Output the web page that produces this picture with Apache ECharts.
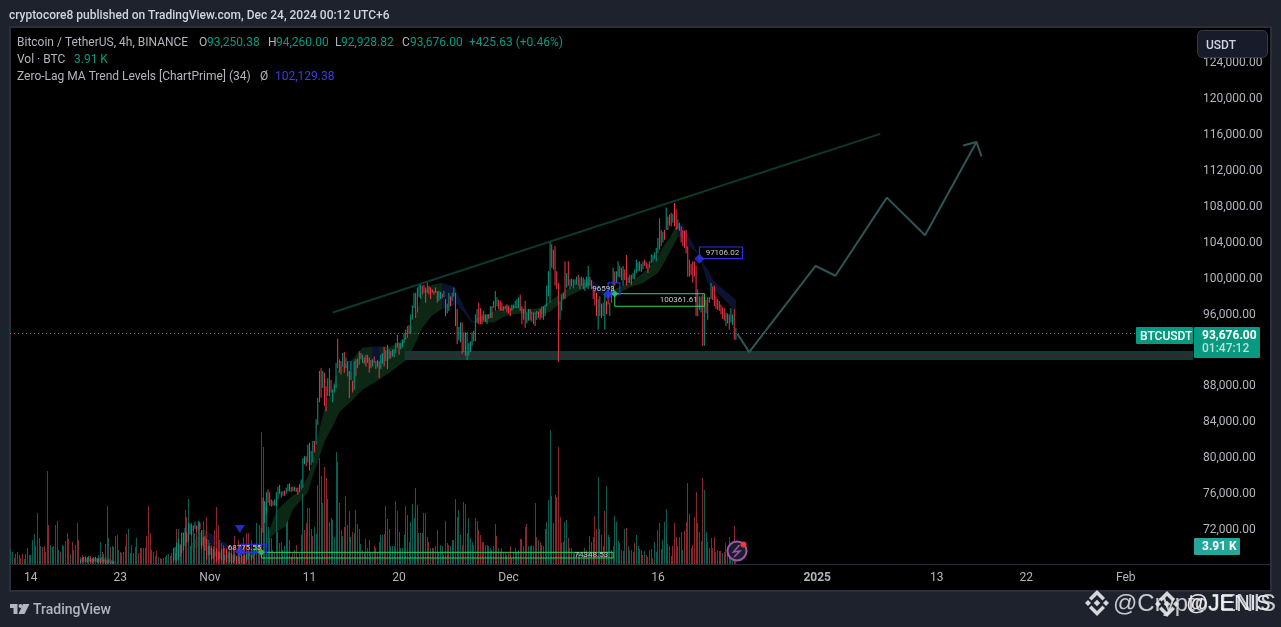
<!DOCTYPE html>
<html>
<head>
<meta charset="utf-8">
<style>html,body{margin:0;padding:0;background:#1e222d}#chart{width:1281px;height:627px}</style>
<script src="https://cdn.jsdelivr.net/npm/echarts@6/dist/echarts.min.js"></script>
</head>
<body>
<div id="chart"></div>
<script>
// BTC/USDT 4h chart: candles, volume, zero-lag band, levels and drawn projection.
const UI_FONT = 'Roboto, "Noto Sans", sans-serif';
const BAR_COUNT = 713;

// Time axis
const tickIndex = [12, 66, 120, 180, 234, 300, 390, 486, 558, 612, 672];
const tickText = ['14', '23', 'Nov', '11', '20', 'Dec', '16', '2025', '13', '22', 'Feb'];

// Candles, in thousands of USDT, starting at bar 42
const candleFirst = 42;
const candleLow = [
  68.1,68.2,68.3,68.2,68.2,68.3,68.2,68.1,68.2,68.3,
  68.2,68.1,68.0,68.2,68.1,68.0,68.0,68.1,68.0,68.0,
  68.0,
  ...Array(35).fill(null),
  68.2,68.4,68.3,68.5,68.8,69.2,69.5,70.0,70.4,70.5,
  71.3,71.2,71.7,71.9,71.6,71.8,71.9,69.7,70.0,69.5,
  68.6,69.0,69.0,68.5,68.6,68.8,68.3,68.4,68.6,68.4,
  68.0,68.4,68.2,68.6,68.2,68.0,68.1,68.3,68.0,68.2,
  68.0,68.1,68.0,68.0,68.2,68.5,68.7,68.4,68.6,69.0,
  69.2,69.2,69.3,70.0,71.5,72.6,73.5,74.8,74.5,74.4,
  74.5,74.5,74.5,75.2,75.8,75.4,75.6,75.6,75.8,76.1,
  76.1,76.0,76.1,76.1,76.0,75.7,76.0,76.3,76.5,79.1,
  78.9,79.3,78.4,79.0,79.3,80.4,81.3,83.5,86.0,86.5,
  87.6,85.6,85.0,86.7,86.7,87.1,86.0,87.1,87.6,89.8,
  89.3,89.1,90.0,89.3,89.8,88.9,86.5,88.5,87.1,87.4,
  88.9,89.8,90.2,90.8,90.4,90.3,90.0,90.4,89.3,89.8,
  90.0,90.4,89.7,89.9,88.7,89.7,90.3,90.0,90.6,89.7,
  90.8,90.9,91.1,91.0,91.5,92.1,91.3,91.9,92.1,92.6,
  93.0,93.2,93.6,93.7,95.2,96.5,95.4,96.0,97.7,97.5,
  98.0,98.2,97.1,98.2,98.0,97.5,98.2,98.0,98.2,97.1,
  97.3,97.5,97.6,97.7,95.6,95.9,96.2,96.7,97.3,97.8,
  94.5,92.5,92.9,92.7,91.4,91.6,91.2,90.7,91.2,91.6,
  92.3,92.8,92.8,94.8,94.7,94.7,94.7,95.1,94.9,94.7,
  95.3,95.4,95.4,96.5,96.2,96.7,96.4,96.2,96.2,96.2,
  96.4,96.0,95.9,95.6,96.2,96.4,96.5,96.5,96.5,96.2,
  94.7,95.2,94.3,94.8,95.1,95.1,95.0,94.7,94.5,95.2,
  95.4,95.2,95.4,95.2,95.6,96.7,97.8,97.1,101.0,100.8,
  99.0,98.6,90.5,95.2,96.2,97.5,97.5,98.8,99.0,98.6,
  98.9,98.7,99.0,99.1,99.0,98.6,99.0,98.6,98.4,98.8,
  98.6,99.0,98.6,97.5,96.8,95.6,94.1,95.6,95.4,95.6,
  94.1,95.8,96.9,95.6,97.1,98.2,99.0,99.3,100.0,99.9,
  99.6,99.0,99.6,99.0,99.3,99.3,99.1,99.7,99.7,100.4,
  100.6,100.6,100.5,100.8,101.2,100.9,100.4,101.0,101.5,101.6,
  101.9,101.7,102.6,103.0,103.4,103.8,104.1,105.2,105.2,105.7,
  105.6,106.0,105.6,105.2,105.3,105.1,103.8,103.4,103.2,102.6,
  100.0,100.0,100.2,99.3,100.0,95.6,95.6,96.3,96.0,92.3,
  92.3,95.9,95.2,97.1,97.5,97.4,96.7,96.4,96.3,96.2,
  95.8,95.3,95.1,94.5,94.8,94.1,94.9,94.6,93.0,92.93
];
const candleHigh = [
  68.5,68.7,68.8,68.8,68.7,68.9,68.7,68.6,68.7,68.8,
  68.6,68.7,68.6,68.8,68.5,68.6,68.4,68.5,68.3,68.4,
  68.3,
  ...Array(35).fill(null),
  69.7,69.9,70.4,70.8,70.2,71.5,71.5,72.0,71.5,72.6,
  72.5,72.4,72.3,72.7,72.3,72.8,72.6,71.8,71.0,71.1,
  70.8,70.0,70.0,69.8,69.7,69.4,69.7,69.4,69.3,69.6,
  69.8,69.0,69.6,69.4,69.3,69.2,69.0,69.1,68.9,69.0,
  68.8,69.0,68.9,69.0,69.2,69.5,69.4,69.0,69.6,69.8,
  70.0,69.8,70.2,72.0,75.4,75.0,76.0,76.3,76.0,75.2,
  75.0,75.2,76.0,76.6,76.8,76.1,76.1,76.2,76.5,76.9,
  77.0,76.6,76.6,76.6,76.5,76.5,76.9,77.4,79.8,80.0,
  80.0,81.3,81.5,80.6,81.7,81.7,84.1,86.5,89.5,89.8,
  89.5,89.3,87.8,88.7,89.8,88.5,87.4,88.0,90.4,93.1,
  90.8,90.6,91.5,91.6,91.0,90.6,89.5,90.6,88.4,90.6,
  90.8,90.9,91.7,91.5,91.3,91.0,91.3,91.3,91.0,90.7,
  90.8,91.1,90.6,90.7,90.6,91.3,91.5,92.2,91.8,92.4,
  91.9,91.7,91.9,91.9,92.6,93.5,92.6,92.6,93.0,93.7,
  94.1,94.5,94.6,95.8,96.8,98.2,98.2,98.8,99.1,99.3,
  99.0,99.1,98.8,99.4,99.0,98.8,98.6,98.4,98.8,98.4,
  98.4,98.3,98.1,98.4,97.5,97.0,98.2,97.8,98.2,98.8,
  98.2,96.4,94.4,94.9,94.9,93.8,93.8,93.8,92.6,92.8,
  93.8,94.0,95.8,96.4,97.1,96.5,95.8,96.2,95.8,95.8,
  95.8,96.7,96.7,97.3,98.4,97.7,97.4,97.3,97.1,96.7,
  96.7,96.9,96.7,96.5,96.9,96.9,97.3,97.5,97.7,98.0,
  96.7,96.4,97.3,96.0,96.4,96.4,96.1,96.0,96.0,96.2,
  96.1,96.4,96.7,96.7,96.9,99.0,100.6,103.9,103.6,103.0,
  103.4,100.6,99.3,97.2,98.0,98.2,101.7,100.4,101.7,99.7,
  99.8,99.7,99.7,100.0,100.2,99.9,100.0,99.9,99.7,100.0,
  101.2,100.0,99.6,99.0,98.4,98.2,97.5,97.8,97.0,97.1,
  98.2,97.3,98.2,97.1,99.0,101.0,100.6,100.6,101.7,101.2,
  101.0,101.2,100.8,102.4,100.0,100.2,100.2,100.4,100.8,101.9,
  101.6,101.7,101.4,101.7,101.9,101.6,101.4,101.7,102.5,102.4,
  102.7,103.2,104.3,106.5,105.2,105.0,105.2,107.7,106.7,106.9,
  107.1,107.0,108.2,107.5,106.4,106.0,105.6,105.2,105.1,105.2,
  103.4,101.9,101.4,101.7,101.7,101.2,98.6,97.8,97.8,98.0,
  97.7,97.4,97.7,97.7,99.3,98.9,99.0,97.8,97.5,97.3,
  96.9,96.6,96.5,96.0,95.9,95.8,96.5,95.8,96.4,94.26
];
// u = closed up, d = closed down, . = no visible candle
const candleDir = [
  'uduududduu','dududddudu','d',
  '...................................',
  'uuuuduuudu','uudududdud','duddduddud','dududddudu','dudduuuduu','uduuduuddd',
  'duuuduuduu','dududduuuu','duduuduuud','udduuduuud','ududuududu','duududdudd',
  'uduuduudud','uduuuuduuu','duduuuduuu','dddudddddd','uududuuduu','dduududuuu',
  'uduudddudu','duduuudddu','dddduuuuud','duduuduudu','dduduuuudd','ddduuududu',
  'duuuduuduu','uddddduddu','udduuuduud','uuddudduuu','uduuddduuu','uuuudududu',
  'dudduudddd','dudddduuud','udududdddd','dddudduudu'
].join('');

// Volume per bar, in thousands of BTC, from bar 0
const volume = [
  3.2,2.7,1.2,2.2,2.7,2.0,1.2,2.2,1.0,2.2,
  3.4,2.0,2.0,5.2,6.5,3.8,11.0,5.6,3.9,3.6,
  3.8,2.7,20.2,8.5,4.1,3.6,3.8,8.5,9.4,3.0,
  2.7,4.1,3.8,5.0,6.7,5.4,2.2,4.8,3.0,4.1,
  8.8,5.2,1.6,2.0,1.6,1.7,1.6,1.6,1.7,1.2,
  1.6,1.2,1.4,2.0,4.8,2.7,2.2,4.3,12.6,5.6,
  3.6,3.8,3.6,6.1,6.3,3.0,2.5,2.3,2.5,3.8,
  6.5,7.7,2.3,4.1,2.3,3.6,5.6,2.3,3.4,3.4,
  3.4,3.4,6.1,12.6,6.7,3.0,2.5,1.7,2.9,1.6,
  1.2,1.0,1.2,1.6,2.0,2.2,1.7,2.3,3.4,2.3,
  7.7,7.7,4.1,6.7,6.7,11.7,10.3,14.1,3.8,8.8,
  7.7,6.7,8.1,7.7,9.2,4.5,9.4,4.1,10.1,5.2,
  4.5,4.1,3.8,7.4,12.3,8.5,5.2,4.5,4.1,3.4,
  3.4,2.0,4.1,3.8,3.4,6.1,1.6,5.2,3.8,3.8,
  5.9,3.8,6.7,6.7,1.2,5.2,2.0,2.2,9.0,3.8,
  8.5,28.7,25.4,13.5,13.2,8.0,5.6,5.6,3.0,2.7,
  13.9,7.0,4.5,4.8,3.0,3.8,8.8,9.3,5.2,1.6,
  2.3,3.0,4.1,1.6,2.3,
  6.3,15.2,7.4,8.8,12.1,12.1,7.7,6.1,8.1,6.5,
  17.1,22.9,19.1,13.2,21.0,18.6,14.2,9.2,9.9,9.5,
  5.9,24.4,22.2,13.2,7.4,6.1,8.1,14.7,8.5,11.4,
  5.9,7.0,6.7,11.7,8.7,7.7,4.3,3.0,2.3,5.4,
  3.4,5.1,2.5,2.7,3.8,3.4,2.7,4.8,6.3,6.3,
  6.5,12.6,9.8,7.7,3.8,3.8,3.9,13.7,11.4,7.0,
  3.4,3.4,6.3,12.6,10.6,4.8,9.2,13.0,9.9,16.4,
  12.8,6.7,6.8,6.7,11.0,11.0,5.9,4.8,3.4,3.4,
  3.4,3.8,7.4,2.7,4.1,3.8,2.0,9.4,4.5,4.1,
  3.8,5.2,5.2,14.1,10.3,11.7,6.3,4.1,13.5,13.0,
  6.7,9.9,5.6,4.8,4.1,9.9,9.3,7.4,6.3,4.8,
  4.8,4.1,4.1,3.8,3.4,3.0,3.9,8.7,6.1,3.4,
  2.7,3.4,2.7,2.3,2.0,2.3,3.8,1.2,2.3,3.4,
  2.7,3.0,5.4,5.4,3.8,8.1,8.7,3.8,3.8,4.1,
  3.8,13.2,5.9,5.2,4.8,4.1,3.8,7.7,9.2,13.9,
  29.1,14.7,8.8,15.0,14.5,25.3,10.3,4.5,4.8,9.2,
  9.5,5.6,3.4,3.4,2.3,2.7,2.3,2.3,2.7,1.6,
  2.0,3.4,3.0,2.7,6.1,4.8,5.9,10.4,7.5,18.8,
  7.7,6.3,4.0,11.6,16.9,6.3,5.9,3.0,3.9,10.4,
  9.2,5.0,4.5,3.0,2.9,7.5,7.9,3.8,3.0,3.0,
  2.5,4.5,6.3,3.9,3.2,3.0,2.0,2.9,2.0,1.6,
  3.0,3.2,1.2,4.8,2.7,7.4,9.0,3.2,5.2,9.2,
  11.9,4.3,3.8,1.7,3.9,8.8,5.9,3.8,5.8,7.0,
  3.0,7.2,9.2,17.5,10.8,3.4,4.1,10.3,15.7,8.8,
  7.0,5.0,18.6,16.1,7.0,4.8,3.4,5.6,3.4,5.9,
  2.5,3.0,2.9,2.9,2.3,2.7,4.5,3.4,5.9,3.4,
  2.5,8.2,3.91
];
const volumeDir = [
  'uuduudddud','duuuududud','duuduudddu','duddududdu','ududdududu','dduuuddddu',
  'duudduddud','duuuduuddu','dudddududu','dudduuduud','duuuuuduud','uududududu',
  'ddudddduud','dududdudud','udddududud','duduuuddud','ududuuuudu','duduu',
  'uudduudduu','uududduddu','uudududdud','ududududud','uduudduduu','dudduuuuud',
  'uuuuduuuud','uududdddud','duduuuddud','uuudduuddu','uuuuuuuddd','duuuuduudu',
  'duuuuddudd','uudduuduud','dududduduu','ududdddudu','ududdududu','dudududddu',
  'dudduuuduu','uuudduduuu','dduuuddudu','duduuuuduu','ududdddddd','uddduudddd',
  'uuduuddudd','ududududuu','udu'
].join('');

// Zero-lag band: one entry per run of the same trend, prices in thousands
const bandBars = [
  [42,50,58,64],
  [108,116,119],
  [119,132,138],
  [151,156,160,166,170,174,179,182,186,189,194,198,205,212,220,229,239,245,248,254,260],
  [203,206],
  [218,222],
  [260,267,269,273,277,279],
  [279,281,291,299,307,313,320,325,335,346,349],
  [349,353,361],
  [361,367,373,381,390,393,397,402],
  [402,405,409,414,417,420,423,428,432,437]
];
const bandUpper = [
  [68.2,68.6,68.8,68.2],
  [70.0,71.9,71.6],
  [71.6,70.0,69.4],
  [68.6,71.9,73.9,75.0,75.6,76.1,77.7,79.3,83.0,85.2,87.8,89.9,90.6,92.1,92.2,92.2,93.3,96.3,98.2,99.1,99.3],
  [90.6,90.6],
  [92.2,92.2],
  [99.3,98.9,98.2,96.7,95.4,94.9],
  [94.9,95.4,96.1,96.9,96.6,96.3,96.6,97.3,98.6,99.3,99.9],
  [99.9,99.2,98.3],
  [98.3,98.9,99.3,100.4,102.1,103.3,104.3,106.0],
  [106.0,105.8,104.4,102.7,101.6,100.8,99.7,98.8,98.2,97.4]
];
const bandLower = [
  [68.1,68.2,68.2,68.1],
  [69.4,70.2,70.2],
  [70.2,69.7,69.4],
  [68.6,70.8,71.6,72.2,74.1,74.9,76.0,77.8,79.9,81.6,83.3,84.9,86.1,87.4,88.3,89.4,90.8,93.0,94.3,95.7,96.4],
  [89.4,89.4],
  [90.4,90.4],
  [96.4,96.8,96.9,96.0,95.0,94.8],
  [94.8,95.0,94.9,95.7,95.9,95.9,95.8,96.1,97.7,98.7,98.9],
  [98.9,98.2,97.8],
  [97.8,98.2,98.8,99.3,100.4,101.3,102.7,104.4],
  [104.4,104.4,103.3,102.6,101.1,99.3,98.6,97.8,97.1,96.0]
];
const bandTrend = ['up','up','down','up','down','down','down','up','down','up','down'];

// Support zone
const zoneBars = [238, 712];
const zonePrices = [91.6, 90.83];

// Last price
const lastPrice = 93.676;

// Hand-drawn trend line and projected path
const trendBars = [194, 524];
const trendPrices = [96.0, 115.9];
const pathBars = [438, 445, 485, 497, 528, 551, 582];
const pathPrices = [93.6, 91.6, 101.2, 100.1, 108.8, 104.6, 115.0];
const arrowBars = [574, 582, 585];
const arrowPrices = [114.6, 115.0, 113.4];

// Indicator levels: outlined boxes with a caption
const boxStart = [151, 364, 415, 360, 138];
const boxEnd = [363, 418, 441, 367, 154];
const boxTop = [69.3, 98.1, 103.3, 99.3, 70.2];
const boxBottom = [68.67, 96.7, 102.0, 98.0, 69.3];
const boxTone = ['green', 'green', 'blue', 'blue', 'blue'];
const boxText = ['74348.53', '100361.61', '97106.02', '96593', '68775.55'];
const boxTextEnd = [360, 414, 439, 364, 151];

// Indicator pivots
const bluePivots = [[415, 102.0], [360, 98.0], [138, 69.4]];
const greenPivots = [[364, 98.1], [151, 69.3]];
const trianglePivots = [[138, 71.9]];

const UP = '#089981', DOWN = '#f23645';
const VOL_UP = '#0b5f52', VOL_DOWN = '#86282e';
const TONES = { green: '#2fd65f', blue: '#2b31e6', up: '#0d2715', down: '#0c1231' };

const categories = Array.from({ length: BAR_COUNT }, (_, i) =>
  new Date(Date.UTC(2024, 9, 12, 22) + i * 4 * 3600 * 1000).toISOString().slice(0, 13));

const candleData = categories.map((_, i) => {
  const k = i - candleFirst;
  const low = candleLow[k], high = candleHigh[k];
  if (low == null) return '-';
  return candleDir[k] === 'u' ? [low, high, low, high] : [high, low, low, high];
});

function zip(xs, ys) { return xs.map((x, i) => [x, ys[i]]); }

function text(str, x, y, style) {
  return { type: 'text', z: 60, x, y, silent: true, style: Object.assign({
    text: str, fill: '#b2b5be', font: '12px ' + UI_FONT, textVerticalAlign: 'middle'
  }, style) };
}
function poly(points, fill, z) {
  return { type: 'polygon', z: z || 60, silent: true, shape: { points }, style: { fill } };
}
function binanceMark(cx, cy, fill) {
  const at = pts => pts.map(p => [cx + p[0], cy + p[1]]);
  return [
    [[0,-3.3],[3.3,0],[0,3.3],[-3.3,0]],
    [[-9,-3],[-6,0],[-9,3],[-12,0]],
    [[9,-3],[12,0],[9,3],[6,0]],
    [[0,-13],[8,-5],[5.5,-2.6],[0,-8.1],[-5.5,-2.6],[-8,-5]],
    [[0,13],[8,5],[5.5,2.6],[0,8.1],[-5.5,2.6],[-8,5]]
  ].map(p => poly(at(p), fill));
}

const graphics = [
  { type: 'rect', z: -1, silent: true, shape: { x: 10, y: 27, width: 1261, height: 564 },
    style: { fill: '#000', stroke: '#2a2e39', lineWidth: 2 } },
  { type: 'line', z: 1, silent: true, shape: { x1: 1193, y1: 564.5, x2: 1271, y2: 564.5 },
    style: { stroke: '#2a2e39', lineWidth: 1 } },

  text('cryptocore8 published on TradingView.com, Dec 24, 2024 00:12 UTC+6', 9, 16, { fill: '#d1d4dc', font: '500 12px ' + UI_FONT }),

  text('Bitcoin / TetherUS, 4h, BINANCE', 17, 43),
  text('O', 199, 43), text('93,250.38', 207, 43, { fill: UP }),
  text('H', 268, 43), text('94,260.00', 276, 43, { fill: UP }),
  text('L', 335, 43), text('92,928.82', 341, 43, { fill: UP }),
  text('C', 402, 43), text('93,676.00', 410, 43, { fill: UP }),
  text('+425.63 (+0.46%)', 469, 43, { fill: UP }),
  text('Vol · BTC', 17, 60),
  text('3.91 K', 74, 60, { fill: UP }),
  text('Zero-Lag MA Trend Levels [ChartPrime] (34)', 17, 77),
  text('Ø', 260, 77),
  text('102,129.38', 275, 77, { fill: '#3b3fe0' }),

  { type: 'rect', z: 59, silent: true, shape: { x: 1197.5, y: 30.5, width: 70, height: 27, r: 5 },
    style: { fill: '#181c2a', stroke: '#363a45', lineWidth: 1 } },
  text('USDT', 1206, 45.5, { fill: '#d1d4dc', font: '500 12px ' + UI_FONT }),

  { type: 'rect', z: 59, silent: true, shape: { x: 1136, y: 327, width: 57, height: 17, r: 1 }, style: { fill: UP } },
  text('BTCUSDT', 1140, 337, { fill: '#fff', font: '500 12px ' + UI_FONT }),
  { type: 'rect', z: 59, silent: true, shape: { x: 1194, y: 327, width: 66, height: 31, r: 1 }, style: { fill: UP } },
  text('93,676.00', 1202, 335.5, { fill: '#fff', font: 'bold 12px ' + UI_FONT }),
  text('01:47:12', 1202, 349, { fill: '#b8e0d8', font: '500 12px ' + UI_FONT }),
  { type: 'rect', z: 59, silent: true, shape: { x: 1194, y: 538, width: 46, height: 17, r: 1 }, style: { fill: '#26a69a' } },
  text('3.91 K', 1202, 547, { fill: '#fff', font: 'bold 12px ' + UI_FONT }),

  { type: 'circle', z: 60, silent: true, shape: { cx: 737, cy: 551, r: 9.5 },
    style: { fill: '#1b1e2b', stroke: '#a155ad', lineWidth: 2 } },
  { type: 'polyline', z: 61, silent: true, shape: { points: [[739.5,545],[733.5,552],[740,551],[734,557]] },
    style: { fill: 'none', stroke: '#a155ad', lineWidth: 1.5 } },
  { type: 'circle', z: 62, silent: true, shape: { cx: 743.5, cy: 544.5, r: 3 }, style: { fill: DOWN } },

  poly([[10,604],[17.5,604],[17.5,614],[13.5,614],[13.5,608],[10,608]], '#b2b5be'),
  poly([[23,604],[29.5,604],[24.5,614],[18.5,614]], '#b2b5be'),
  { type: 'circle', z: 60, silent: true, shape: { cx: 20.5, cy: 606, r: 2 }, style: { fill: '#b2b5be' } },
  text('TradingView', 33, 610, { fill: '#b2b5be', font: '500 14px ' + UI_FONT }),

  ...binanceMark(1097, 603, '#d6d7da'),
  ...binanceMark(1167, 604, '#d6d7da'),
  text('@CryptoJENIS', 1113, 604, { fill: 'rgba(230,230,232,0.85)', font: '24px "Liberation Sans", sans-serif' }),
  text('@JENIS', 1186, 604, { fill: 'rgba(240,240,242,0.95)', font: '22px "Liberation Sans", sans-serif' })
];

const chart = echarts.init(document.getElementById('chart'), null, { renderer: 'canvas' });
chart.setOption({
  animation: false,
  backgroundColor: '#1e222d',
  textStyle: { fontFamily: UI_FONT },
  grid: { left: 10, right: 88, top: 27, bottom: 63 },
  xAxis: {
    type: 'category',
    data: categories,
    boundaryGap: true,
    axisLine: { show: true, lineStyle: { color: '#2a2e39' } },
    axisTick: { show: false },
    splitLine: { show: false },
    axisLabel: {
      color: '#b2b5be', fontSize: 12, margin: 8,
      interval: i => tickIndex.includes(i),
      formatter: (value, i) => {
        const t = tickText[tickIndex.indexOf(i)];
        return t === '2025' ? '{bold|2025}' : t;
      },
      rich: { bold: { fontWeight: 'bold', color: '#b2b5be', fontSize: 12 } }
    }
  },
  yAxis: [
    {
      type: 'value', position: 'right', min: 68, max: 127.8, interval: 4,
      axisLine: { show: false }, axisTick: { show: false }, splitLine: { show: false },
      axisLabel: {
        color: '#b2b5be', fontSize: 12, margin: 10, showMaxLabel: false, showMinLabel: false,
        formatter: v => '{price|' + (v * 1000).toLocaleString('en-US', { minimumFractionDigits: 2 }) + '}',
        rich: { price: { color: '#b2b5be', fontSize: 12, padding: [4, 0, 0, 0] } }
      }
    },
    { type: 'value', show: false, min: 0, max: 116.5 }
  ],
  series: [
    {
      type: 'custom', z: 1, clip: true, silent: true,
      data: bandBars.map((b, k) => [b[0], bandUpper[k][0]]),
      renderItem: (params, api) => {
        const k = params.dataIndex;
        const top = bandBars[k].map((b, j) => api.coord([b, bandUpper[k][j]]));
        const bottom = bandBars[k].map((b, j) => api.coord([b, bandLower[k][j]])).reverse();
        return { type: 'polygon', shape: { points: top.concat(bottom) },
          style: { fill: TONES[bandTrend[k]] } };
      }
    },
    {
      type: 'custom', z: 1, clip: true, silent: true,
      data: [[zoneBars[0], zonePrices[0]]],
      renderItem: (params, api) => {
        const a = api.coord([zoneBars[0], zonePrices[0]]);
        const b = api.coord([zoneBars[1], zonePrices[1]]);
        return { type: 'rect',
          shape: { x: a[0], y: a[1], width: b[0] - a[0], height: b[1] - a[1] },
          style: { fill: '#2a2d2d', stroke: '#0e3c34', lineWidth: 2 } };
      }
    },
    {
      // Volume drawn as single-pixel columns so neighbouring bars stay distinct
      type: 'custom', z: 2, yAxisIndex: 1, clip: true, silent: true,
      data: volume.map((v, i) => [i, v]),
      encode: { x: 0, y: 1 },
      renderItem: (params, api) => {
        const top = api.coord([api.value(0), api.value(1)]);
        const base = api.coord([api.value(0), 0]);
        return { type: 'rect',
          shape: { x: Math.round(top[0] - 0.5), y: Math.round(top[1]), width: 1, height: Math.round(base[1]) - Math.round(top[1]) },
          style: { fill: volumeDir[params.dataIndex] === 'u' ? VOL_UP : VOL_DOWN } };
      }
    },
    {
      type: 'candlestick', z: 3, barWidth: 0.5, silent: true,
      itemStyle: { color: UP, color0: DOWN, borderColor: UP, borderColor0: DOWN, borderWidth: 1 },
      data: candleData,
      markLine: {
        silent: true, symbol: 'none', label: { show: false },
        lineStyle: { color: UP, type: [1, 3], width: 1 },
        data: [{ yAxis: lastPrice }]
      }
    },
    {
      type: 'line', z: 4, silent: true, symbol: 'none',
      lineStyle: { color: '#0d3a2e', width: 2 },
      data: zip(trendBars, trendPrices)
    },
    {
      type: 'line', z: 4, silent: true, symbol: 'none',
      lineStyle: { color: '#2f5657', width: 2 },
      data: zip(pathBars, pathPrices)
    },
    {
      type: 'line', z: 4, silent: true, symbol: 'none',
      lineStyle: { color: '#2f5657', width: 2 },
      data: zip(arrowBars, arrowPrices)
    },
    {
      type: 'custom', z: 5, clip: false, silent: true,
      data: boxStart.map((b, k) => [b, boxTop[k]]),
      renderItem: (params, api) => {
        const k = params.dataIndex;
        const a = api.coord([boxStart[k], boxTop[k]]);
        const b = api.coord([boxEnd[k], boxBottom[k]]);
        const e = api.coord([boxTextEnd[k], boxBottom[k]]);
        return { type: 'group', children: [
          { type: 'rect', shape: { x: a[0], y: a[1], width: b[0] - a[0], height: b[1] - a[1] },
            style: { fill: 'transparent', stroke: TONES[boxTone[k]], lineWidth: boxTone[k] === 'green' ? 1 : 1.2 } },
          { type: 'text', style: { text: boxText[k], x: e[0], y: (a[1] + b[1]) / 2,
              fill: '#c9cacc', font: '8px ' + UI_FONT, textAlign: 'right', textVerticalAlign: 'middle' } }
        ] };
      }
    },
    {
      type: 'scatter', z: 6, silent: true, symbol: 'diamond', symbolSize: 10,
      itemStyle: { color: '#2f35ea' }, data: bluePivots
    },
    {
      type: 'scatter', z: 6, silent: true, symbol: 'diamond', symbolSize: 7,
      itemStyle: { color: '#2fd65f' }, data: greenPivots
    },
    {
      type: 'scatter', z: 6, silent: true, symbol: 'triangle', symbolRotate: 180, symbolSize: [10, 8],
      itemStyle: { color: '#2f35ea' }, data: trianglePivots
    }
  ],
  graphic: { elements: graphics }
});
</script>
</body>
</html>
